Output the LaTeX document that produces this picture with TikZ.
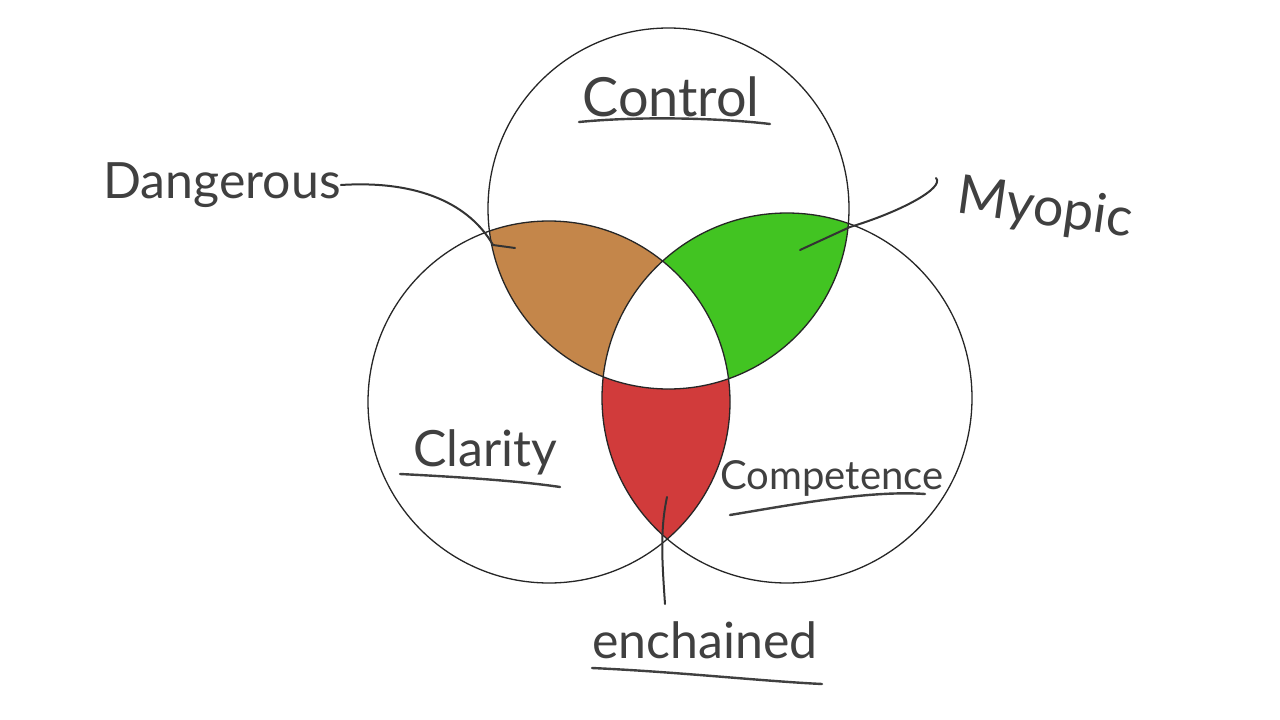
\documentclass[tikz,border=0pt]{standalone}
\usepackage{fontspec}
\setmainfont{Lato}
\begin{document}
\begin{tikzpicture}[x=1pt,y=-1pt,
  ring/.style={draw=black!85,line width=1.3pt},
  word/.style={inner sep=0pt,text=black!75},
  ink/.style={draw=black!75,line width=2.4pt,line cap=round},
  lead/.style={draw=black!80,line width=2pt,line cap=round}]
\useasboundingbox (0,0) rectangle (1280,720);
\fill[white] (0,0) rectangle (1280,720);
% circle centres
\coordinate (ct) at (668.5,208.5);
\coordinate (cl) at (549,402);
\coordinate (cr) at (787,398);
% fills
\begin{scope}
  \clip (ct) circle [radius=180.5pt];
  \fill[fill={rgb,255:red,196;green,134;blue,74}] (cl) circle [radius=181pt];
  \fill[fill={rgb,255:red,66;green,196;blue,34}] (cr) circle [radius=185pt];
\end{scope}
\begin{scope}
  \clip (cl) circle [radius=181pt];
  \fill[fill={rgb,255:red,209;green,59;blue,59}] (cr) circle [radius=185pt];
  \clip (cr) circle [radius=185pt];
  \fill[white] (ct) circle [radius=180.5pt];
\end{scope}
% circles
\draw[ring] (ct) circle [radius=180.5pt];
\draw[ring] (cl) circle [radius=181pt];
\draw[ring] (cr) circle [radius=185pt];
% labels
\node[word,font=\fontsize{54}{60}\selectfont] (control) at (671,97) {Control};
\node[word,font=\fontsize{50}{56}\selectfont] (dang) at (222,185) {Dangerous};
\node[word,font=\fontsize{54}{60}\selectfont,rotate=-8] (myopic) at (1045,210) {Myopic};
\node[word,font=\fontsize{50}{56}\selectfont] (clarity) at (485,452) {Clarity};
\node[word,font=\fontsize{40}{46}\selectfont] (comp) at (832,478) {Competence};
\node[word,font=\fontsize{50}{56}\selectfont] (ench) at (705,640) {enchained};
% underlines
\draw[ink] (579,122) .. controls (640,116) and (720,118) .. (770,124);
\draw[ink] (400,474) .. controls (460,477) and (520,481) .. (560,487);
\draw[ink] (730,515) .. controls (790,505) and (870,490) .. (925,494);
\draw[ink] (592,668) .. controls (680,672) and (760,681) .. (822,684);
% leader lines
\coordinate (pd) at (515,248);
\coordinate (pm) at (800,250);
\coordinate (pe) at (667,497);
\coordinate (ms) at (936,178);
\coordinate (es) at (665,604);
\draw[lead] (dang.east) .. controls (420,180) and (470,205) .. (493,245) -- (pd);
\draw[lead] (ms) .. controls (945,188) and (900,212) .. (850,227) -- (pm);
\draw[lead] (pe) .. controls (660,530) and (662,560) .. (es);
\end{tikzpicture}
\end{document}
